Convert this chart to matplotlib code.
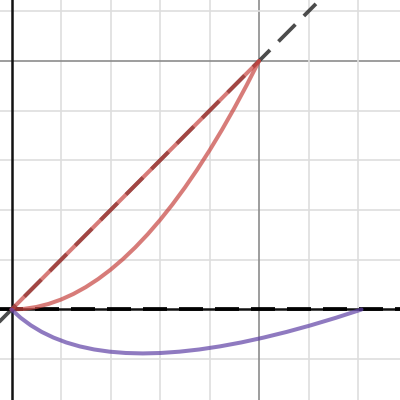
import matplotlib
matplotlib.use('Agg')
import matplotlib.pyplot as plt
import numpy as np

# view window
x_lim = [-0.0465, 1.5697]
y_lim = [-0.3642, 1.2455]

# parabola y = x^2
red_x = [0.0, 0.05, 0.1, 0.15, 0.2, 0.25, 0.3, 0.35, 0.4, 0.45, 0.5,
         0.55, 0.6, 0.65, 0.7, 0.75, 0.8, 0.85, 0.9, 0.95, 1.0]
red_y = [0.0, 0.0025, 0.01, 0.0225, 0.04, 0.0625, 0.09, 0.1225, 0.16, 0.2025, 0.25,
         0.3025, 0.36, 0.4225, 0.49, 0.5625, 0.64, 0.7225, 0.81, 0.9025, 1.0]

# purple curve (parabola laid down onto the x axis)
purple_x = [0.0, 0.0371, 0.0778, 0.1220, 0.1697, 0.2210, 0.2758, 0.3341, 0.3960, 0.4614, 0.5303,
            0.6028, 0.6788, 0.7584, 0.8415, 0.9281, 1.0182, 1.1119, 1.2092, 1.3099, 1.4142]
purple_y = [0.0, -0.0336, -0.0636, -0.0902, -0.1131, -0.1326, -0.1485, -0.1609, -0.1697, -0.1750, -0.1768,
            -0.1750, -0.1697, -0.1609, -0.1485, -0.1326, -0.1131, -0.0902, -0.0636, -0.0336, 0.0]

# straight pieces
chord_x = [0.0, 1.0]
chord_y = [0.0, 1.0]
diag_x = [-0.07, 1.23]
diag_y = [-0.07, 1.23]
flat_x = [-0.08, 1.6]
flat_y = [0.0, 0.0]

red = '#c74440'
purple = '#6042a6'

fig = plt.figure(figsize=(4, 4), dpi=100)
ax = fig.add_axes([0, 0, 1, 1])
ax.set_xlim(x_lim)
ax.set_ylim(y_lim)
ax.axis('off')

# grid
for g in np.arange(-0.2, 1.61, 0.2):
    g = round(g, 1)
    major = abs(g - 1.0) < 1e-9
    c = '#8c8c8c' if major else '#dedede'
    if abs(g) > 1e-9:
        ax.axvline(g, color=c, lw=1.2, zorder=0)
        ax.axhline(g, color=c, lw=1.2, zorder=0)
ax.axvline(0, color='#111111', lw=1.8, zorder=1)
ax.axhline(0, color='#111111', lw=1.8, zorder=1)

dash = (6.4, 3.2)
ax.plot(diag_x, diag_y, color='#2d2d2d', alpha=0.85, lw=2.7,
        dashes=dash, solid_capstyle='round', zorder=2)
ax.plot(flat_x, flat_y, color='#000000', lw=2.7, dashes=dash, zorder=2)
ax.plot(chord_x, chord_y, color=red, alpha=0.7, lw=2.9,
        solid_capstyle='round', zorder=3)
ax.plot(red_x, red_y, color=red, alpha=0.7, lw=2.9,
        solid_capstyle='round', solid_joinstyle='round', zorder=3)
ax.plot(purple_x, purple_y, color=purple, alpha=0.7, lw=2.9,
        solid_capstyle='round', solid_joinstyle='round', zorder=3)

plt.savefig('out.png', dpi=100)
